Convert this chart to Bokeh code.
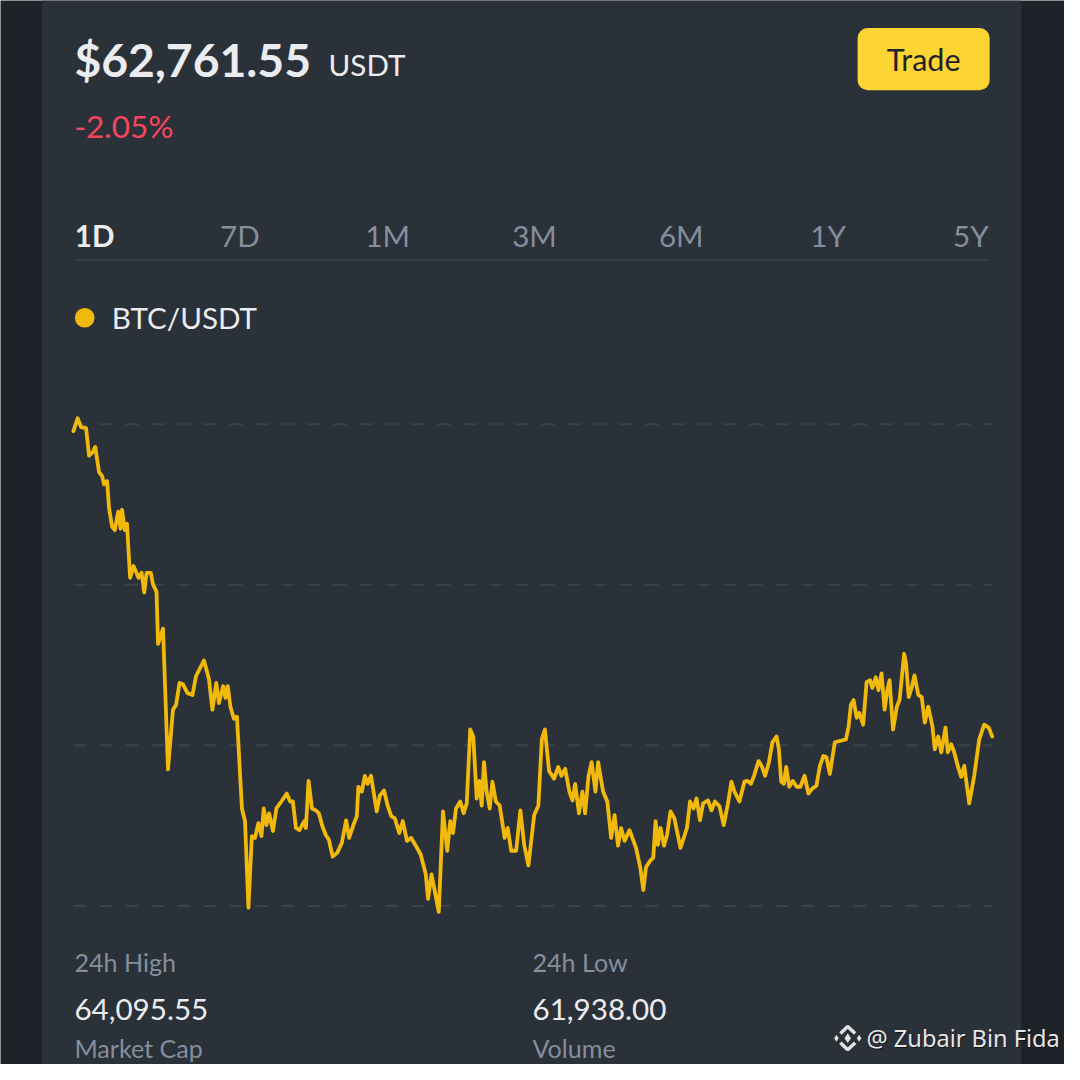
from bokeh.plotting import figure
from bokeh.models import Range1d, BoxAnnotation
from bokeh.core.properties import value
from bokeh.embed import file_html
from bokeh.resources import INLINE

# ---------------- data ----------------
pair = "BTC/USDT"
last_price = "$62,761.55"
quote = "USDT"
change_pct = "-2.05%"
tabs = ["1D", "7D", "1M", "3M", "6M", "1Y", "5Y"]
stat_labels = ["24h High", "24h Low", "Market Cap", "Volume"]
stat_values = ["64,095.55", "61,938.00"]
grid_levels = [62000, 62600, 63200, 63800]
watermark = "@ Zubair Bin Fida"

# time of day (hours) and BTC/USDT price
hours = [0.00, 0.11, 0.20, 0.33, 0.41, 0.50, 0.57, 0.67, 0.75, 0.80,
         0.88, 0.93, 1.01, 1.08, 1.17, 1.23, 1.27, 1.34, 1.40, 1.48,
         1.57, 1.70, 1.78, 1.85, 1.91, 2.02, 2.08, 2.17, 2.21, 2.34,
         2.47, 2.60, 2.68, 2.77, 2.86, 2.98, 3.11, 3.20, 3.41, 3.54,
         3.63, 3.73, 3.80, 3.91, 3.97, 4.03, 4.10, 4.19, 4.27, 4.40,
         4.48, 4.57,
         4.66, 4.74, 4.83, 4.91, 4.97, 5.04, 5.11, 5.21, 5.30, 5.43,
         5.57, 5.66, 5.73, 5.81, 5.90, 6.03, 6.07, 6.14, 6.23, 6.33,
         6.41, 6.50, 6.59, 6.67, 6.77, 6.89, 7.01, 7.12, 7.20, 7.31,
         7.40, 7.44, 7.53, 7.61, 7.68, 7.77, 7.92, 8.00, 8.11, 8.21,
         8.30, 8.39, 8.51, 8.60, 8.71, 8.82, 8.94, 9.07, 9.20, 9.26,
         9.35, 9.43, 9.54, 9.65, 9.76, 9.84, 9.91, 9.99, 10.10, 10.19,
         10.27,
         10.36, 10.44, 10.53, 10.60, 10.66, 10.72, 10.79, 10.87, 10.94, 11.03,
         11.13, 11.26, 11.34, 11.43, 11.56, 11.67, 11.77, 11.88, 12.03, 12.14,
         12.23, 12.31, 12.42, 12.55, 12.66, 12.74, 12.84, 12.95, 13.03, 13.10,
         13.20, 13.29, 13.36, 13.45, 13.53, 13.63, 13.70, 13.83, 13.94, 14.04,
         14.13, 14.22, 14.30, 14.39, 14.52, 14.69, 14.80, 14.88, 14.95, 15.06,
         15.14, 15.20, 15.26, 15.33, 15.42, 15.50, 15.59, 15.69, 15.85,
         16.02, 16.10, 16.19, 16.27, 16.36, 16.44, 16.57, 16.66, 16.75, 16.87,
         16.98, 17.09, 17.18, 17.26, 17.39, 17.52, 17.60, 17.69, 17.77, 17.89,
         17.97, 18.06, 18.16, 18.25, 18.36, 18.42, 18.48, 18.55, 18.61, 18.69,
         18.78, 18.89, 18.98, 19.09, 19.19, 19.29, 19.40, 19.49, 19.58, 19.66,
         19.75, 19.88, 19.98, 20.17, 20.24, 20.30, 20.37, 20.45, 20.52, 20.62,
         20.71, 20.80, 20.86, 20.95, 21.02, 21.10, 21.18, 21.25, 21.31, 21.40,
         21.50, 21.57, 21.63, 21.69, 21.74, 21.81, 21.89, 21.96, 22.06, 22.15,
         22.23, 22.32, 22.43, 22.49, 22.58, 22.66, 22.77, 22.83, 22.92, 22.99,
         23.09, 23.18, 23.26, 23.39, 23.52, 23.65, 23.78, 23.90, 23.99]

prices = [63774, 63822, 63789, 63785, 63682, 63695, 63715, 63620, 63606, 63575,
          63587, 63487, 63417, 63404, 63473, 63410, 63480, 63404, 63428, 63226,
          63270, 63226, 63245, 63171, 63244, 63244, 63200, 63174, 62979, 63036,
          62510, 62733, 62751, 62833, 62828, 62795, 62788, 62858, 62917, 62847,
          62733, 62833, 62758, 62821, 62777, 62821, 62744, 62699, 62707, 62364,
          62317, 61993,
          62261, 62254, 62309, 62261, 62364, 62302, 62346, 62280, 62364, 62390,
          62420, 62390, 62390, 62291, 62283, 62317, 62291, 62467, 62364, 62357,
          62346, 62298, 62265, 62247, 62184, 62199, 62236, 62320, 62254, 62302,
          62335, 62445, 62427, 62486, 62456, 62486, 62353, 62412, 62431, 62372,
          62335, 62328, 62272, 62317, 62243, 62254, 62225, 62191, 62118, 62026,
          62118, 62059, 61978, 62353, 62206, 62317, 62272, 62364, 62390, 62346,
          62383,
          62659, 62633, 62401, 62467, 62375, 62537, 62427, 62364, 62464, 62390,
          62375, 62254, 62291, 62206, 62206, 62357, 62228, 62151, 62339, 62375,
          62622, 62659, 62504, 62475, 62519, 62486, 62512, 62427, 62394, 62456,
          62346, 62427, 62346, 62486, 62537, 62427, 62537, 62427, 62390, 62254,
          62339, 62225, 62291, 62243, 62283, 62217, 62144, 62059, 62144, 62169,
          62180, 62317, 62228, 62291, 62225, 62265, 62353, 62328, 62217,
          62291, 62390, 62364, 62401, 62320, 62383, 62394, 62357, 62390, 62372,
          62302, 62383, 62464, 62427, 62390, 62464, 62467, 62456, 62486, 62541,
          62523, 62486, 62537, 62611, 62633, 62585, 62464, 62456, 62519, 62445,
          62467, 62445, 62445, 62486, 62420, 62438, 62449, 62523, 62560, 62556,
          62493, 62611, 62615, 62622, 62670, 62751, 62769, 62703, 62721, 62677,
          62836, 62843, 62814, 62854, 62806, 62869, 62733, 62806, 62843, 62659,
          62744, 62769, 62854, 62942, 62906, 62780, 62817, 62861, 62788, 62780,
          62685, 62744, 62670, 62585, 62633, 62574, 62666, 62574, 62604, 62578,
          62523, 62482, 62523, 62383, 62486, 62622, 62677, 62666, 62633]

assert len(hours) == len(prices)

# ---------------- style ----------------
OUTER = "#1E2329"
CARD = "#2B3139"
TEXT = "#EAECEF"
MUTED = "#848E9C"
RED = "#F6465D"
YELLOW = "#F0B90B"
BUTTON = "#FCD535"
GRID = "#3A414B"
FONT = "Lato"
W = 1064
S = W / 1080.0  # canvas px per reference px

p = figure(width=W, height=W, output_backend="svg", toolbar_location=None,
           x_range=Range1d(-1.9035, 25.877), y_range=Range1d(61407.4, 65382.8),
           x_axis_location=None, y_axis_location=None, min_border=0, title=None,
           background_fill_color=OUTER, border_fill_color=OUTER,
           outline_line_color=None)
p.grid.visible = False

# layout helper ranges (reference-page pixel coordinates)
p.extra_x_ranges = {"px": Range1d(0, 1080)}
p.extra_y_ranges = {"px": Range1d(1080, 0)}
PX = dict(x_range_name="px", y_range_name="px")

# card
p.quad(left=[42], right=[1036], top=[0], bottom=[1080], fill_color=CARD,
       line_color=None, **PX)


def txt(x, y, s, size, color, font=FONT, style="normal", align="left", alpha=1.0):
    return p.text(x=[x], y=[y], text=[s], text_font=value(font),
                  text_font_size=f"{size * S:.1f}px", text_font_style=style,
                  text_color=color, text_align=align, text_baseline="alphabetic",
                  text_alpha=alpha, **PX)


# header
txt(75, 59, last_price, 47, TEXT, style="bold")
txt(333, 65, quote, 30, TEXT)
txt(75, 127, change_pct, 32, RED)

# trade button
p.add_layout(BoxAnnotation(left=870, right=1004, top=28, bottom=91,
                           fill_color=BUTTON, fill_alpha=1.0, line_color=None,
                           border_radius=10, **PX))
tr = txt(937, 59.5, "Trade", 31, OUTER, align="center")
tr.level = "overlay"

# tabs
tab_x = [95.5, 243, 393, 542, 691, 840, 985]
for i, (t, tx) in enumerate(zip(tabs, tab_x)):
    txt(tx, 238.5, t, 30, TEXT if i == 0 else MUTED,
        style="bold" if i == 0 else "normal", align="center")
p.segment(x0=[75], x1=[1004], y0=[263.5], y1=[263.5], line_color="#363C45",
          line_width=2, **PX)

# legend
p.scatter(x=[85.5], y=[322], size=20 * S, color=YELLOW, line_color=None, **PX)
txt(113, 322, pair, 30, TEXT)

# grid lines (dashed) and price line
p.segment(x0=[0] * len(grid_levels), x1=[24] * len(grid_levels),
          y0=grid_levels, y1=grid_levels, line_color=GRID, line_width=2,
          line_dash="13 13")
p.line(hours, prices, line_color=YELLOW, line_width=3.8, line_join="round",
       line_cap="round")

# stats
txt(75, 975.5, stat_labels[0], 25.5, MUTED)
txt(540, 975.5, stat_labels[1], 25.5, MUTED)
txt(75, 1024.5, stat_values[0], 30, TEXT)
txt(540, 1024.5, stat_values[1], 30, TEXT)
txt(75, 1063, stat_labels[2], 25.5, MUTED)
txt(540, 1063, stat_labels[3], 25.5, MUTED)

# watermark
LOGO = "#E2E2E2"
p.scatter(x=[860, 848.5, 871.5], y=[1053.3, 1053.3, 1053.3],
          size=[10 * S, 7 * S, 7 * S], marker="diamond", color=LOGO,
          line_color=None, **PX)
p.multi_line(xs=[[852.5, 860, 867.5], [852.5, 860, 867.5]],
             ys=[[1048.5, 1041.5, 1048.5], [1058, 1065, 1058]],
             line_color=LOGO, line_width=3.5 * S, **PX)
txt(880, 1054.5, watermark, 24, "#000000", font="Noto Sans", alpha=0.55)
txt(879, 1053.5, watermark, 24, "#E6E6E6", font="Noto Sans")

open("out.html", "w").write(file_html(p, INLINE))
